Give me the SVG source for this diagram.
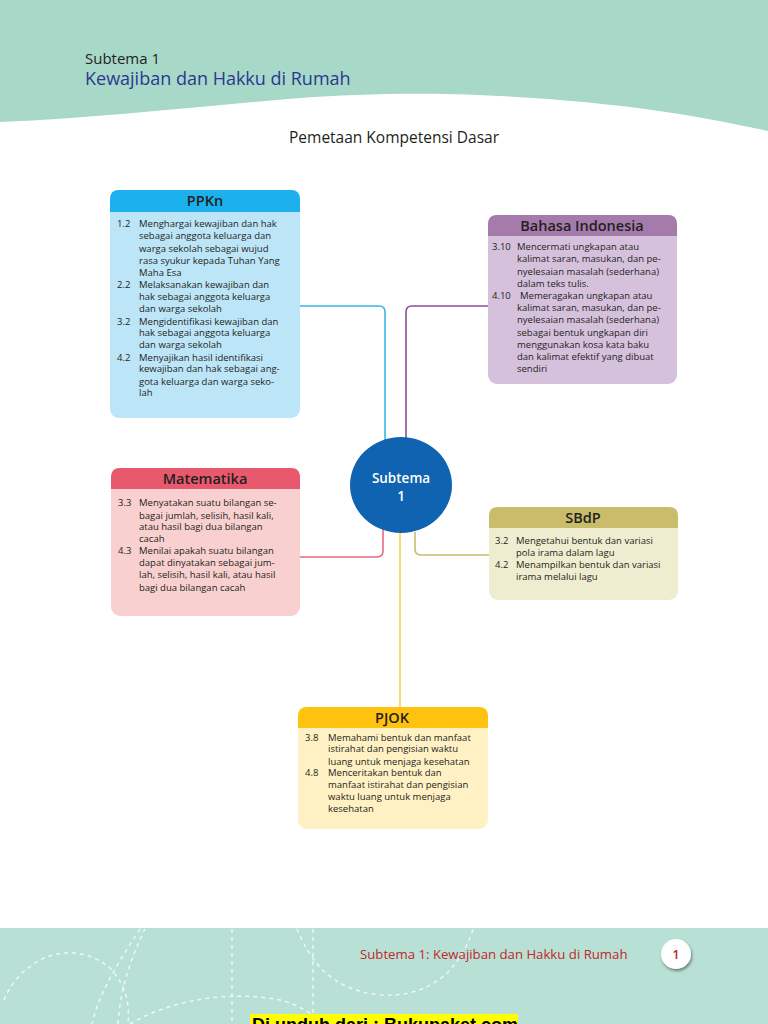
<svg xmlns="http://www.w3.org/2000/svg" width="768" height="1024" viewBox="0 0 768 1024">
<defs>
<style>
.hd{font-family:"Open Sans","Noto Sans",sans-serif;font-size:14.5px;font-weight:600;fill:#231f20;text-anchor:middle}
.bd{font-family:"Open Sans","Noto Sans",sans-serif;font-size:9.5px;fill:#231f20}
.cn{fill:none;stroke-width:1.6}
.dash{fill:none;stroke:#ffffff;stroke-width:1.5;stroke-dasharray:4 4;opacity:0.75}
</style>
<filter id="sh" x="-50%" y="-50%" width="200%" height="200%">
<feDropShadow dx="1" dy="2" stdDeviation="1.5" flood-color="#000" flood-opacity="0.45"/>
</filter>
</defs>
<rect width="768" height="1024" fill="#ffffff"/>
<!-- header band -->
<path d="M0,0 H768 V131 C700,116 620,102 500,96 C420,92 360,94 300,98 C200,106 100,118 0,122 Z" fill="#a8d8c8"/>
<text x="85" y="64" font-family="'Open Sans','Noto Sans',sans-serif" font-size="15" fill="#231f20">Subtema 1</text>
<text x="85" y="85" font-family="'Open Sans','Noto Sans',sans-serif" font-size="18" fill="#2b3990">Kewajiban dan Hakku di Rumah</text>
<text x="394" y="143" font-family="'Open Sans','Noto Sans',sans-serif" font-size="15.5" fill="#231f20" text-anchor="middle">Pemetaan Kompetensi Dasar</text>

<!-- connectors -->
<g id="connectors">
<path class="cn" stroke="#3bb7e6" d="M300,306 H379 Q385,306 385,312 V441"/>
<path class="cn" stroke="#8c4f97" d="M488,306 H412 Q406,306 406,312 V441"/>
<path class="cn" stroke="#e86a80" d="M300,557 H377 Q383,557 383,551 V530"/>
<path class="cn" stroke="#cbbb6e" d="M415,532 V549 Q415,555 421,555 H489"/>
<path class="cn" stroke="#f6d544" d="M400,533 V707"/>
</g>

<!-- PPKn -->
<g id="ppkn">
<rect x="110" y="190" width="190" height="228" rx="9" fill="#bde5f8"/>
<path d="M110,212 V199 Q110,190 119,190 H291 Q300,190 300,199 V212 Z" fill="#1cb0ec"/>
<text class="hd" x="205" y="206">PPKn</text>
<text class="bd">
<tspan x="117" y="227">1.2</tspan><tspan x="117" y="288">2.2</tspan><tspan x="117" y="325">3.2</tspan><tspan x="117" y="361">4.2</tspan>
<tspan x="139" y="227">Menghargai kewajiban dan hak</tspan>
<tspan x="139" y="239">sebagai anggota keluarga dan</tspan>
<tspan x="139" y="252">warga sekolah sebagai wujud</tspan>
<tspan x="139" y="264">rasa syukur kepada Tuhan Yang</tspan>
<tspan x="139" y="276">Maha Esa</tspan>
<tspan x="139" y="288">Melaksanakan kewajiban dan</tspan>
<tspan x="139" y="300">hak sebagai anggota keluarga</tspan>
<tspan x="139" y="312">dan warga sekolah</tspan>
<tspan x="139" y="325">Mengidentifikasi kewajiban dan</tspan>
<tspan x="139" y="336">hak sebagai anggota keluarga</tspan>
<tspan x="139" y="348">dan warga sekolah</tspan>
<tspan x="139" y="361">Menyajikan hasil identifikasi</tspan>
<tspan x="139" y="372">kewajiban dan hak sebagai ang-</tspan>
<tspan x="139" y="385">gota keluarga dan warga seko-</tspan>
<tspan x="139" y="396">lah</tspan>
</text>
</g>

<!-- Bahasa Indonesia -->
<g id="bahasa">
<rect x="488" y="215" width="189" height="169" rx="9" fill="#d6c1dd"/>
<path d="M488,236 V224 Q488,215 497,215 H668 Q677,215 677,224 V236 Z" fill="#a57bac"/>
<text class="hd" x="582" y="231">Bahasa Indonesia</text>
<text class="bd">
<tspan x="492" y="250">3.10</tspan><tspan x="492" y="299">4.10</tspan>
<tspan x="517" y="250">Mencermati ungkapan atau</tspan>
<tspan x="517" y="262">kalimat saran, masukan, dan pe-</tspan>
<tspan x="517" y="275">nyelesaian masalah (sederhana)</tspan>
<tspan x="517" y="287">dalam teks tulis.</tspan>
<tspan x="520" y="299">Memeragakan ungkapan atau</tspan>
<tspan x="517" y="311">kalimat saran, masukan, dan pe-</tspan>
<tspan x="517" y="323">nyelesaian masalah (sederhana)</tspan>
<tspan x="517" y="336">sebagai bentuk ungkapan diri</tspan>
<tspan x="517" y="348">menggunakan kosa kata baku</tspan>
<tspan x="517" y="360">dan kalimat efektif yang dibuat</tspan>
<tspan x="517" y="372">sendiri</tspan>
</text>
</g>

<!-- Matematika -->
<g id="matematika">
<rect x="111" y="468" width="189" height="148" rx="9" fill="#f9d0d0"/>
<path d="M111,489 V477 Q111,468 120,468 H291 Q300,468 300,477 V489 Z" fill="#e8596e"/>
<text class="hd" x="205" y="484">Matematika</text>
<text class="bd">
<tspan x="118" y="506">3.3</tspan><tspan x="118" y="554">4.3</tspan>
<tspan x="139" y="506">Menyatakan suatu bilangan se-</tspan>
<tspan x="139" y="519">bagai jumlah, selisih, hasil kali,</tspan>
<tspan x="139" y="530">atau hasil bagi dua bilangan</tspan>
<tspan x="139" y="542">cacah</tspan>
<tspan x="139" y="554">Menilai apakah suatu bilangan</tspan>
<tspan x="139" y="566">dapat dinyatakan sebagai jum-</tspan>
<tspan x="139" y="578">lah, selisih, hasil kali, atau hasil</tspan>
<tspan x="139" y="591">bagi dua bilangan cacah</tspan>
</text>
</g>

<!-- SBdP -->
<g id="sbdp">
<rect x="489" y="507" width="189" height="93" rx="9" fill="#efedd0"/>
<path d="M489,528 V516 Q489,507 498,507 H669 Q678,507 678,516 V528 Z" fill="#c9bd6c"/>
<text class="hd" x="583" y="523">SBdP</text>
<text class="bd">
<tspan x="495" y="544">3.2</tspan><tspan x="495" y="568">4.2</tspan>
<tspan x="516" y="544">Mengetahui bentuk dan variasi</tspan>
<tspan x="516" y="556">pola irama dalam lagu</tspan>
<tspan x="516" y="568">Menampilkan bentuk dan variasi</tspan>
<tspan x="516" y="580">irama melalui lagu</tspan>
</text>
</g>

<!-- PJOK -->
<g id="pjok">
<rect x="298" y="707" width="190" height="122" rx="9" fill="#fff1c4"/>
<path d="M298,728 V716 Q298,707 307,707 H479 Q488,707 488,716 V728 Z" fill="#ffc20e"/>
<text class="hd" x="392" y="723">PJOK</text>
<text class="bd">
<tspan x="305" y="741">3.8</tspan><tspan x="305" y="776">4.8</tspan>
<tspan x="328" y="741">Memahami bentuk dan manfaat</tspan>
<tspan x="328" y="752">istirahat dan pengisian waktu</tspan>
<tspan x="328" y="765">luang untuk menjaga kesehatan</tspan>
<tspan x="328" y="776">Menceritakan bentuk dan</tspan>
<tspan x="328" y="788">manfaat istirahat dan pengisian</tspan>
<tspan x="328" y="800">waktu luang untuk menjaga</tspan>
<tspan x="328" y="812">kesehatan</tspan>
</text>
</g>

<!-- center -->
<g id="subtema">
<ellipse cx="401" cy="485" rx="51" ry="48" fill="#0f63b0"/>
<text x="401" y="483" font-family="'Open Sans','Noto Sans',sans-serif" font-size="13.5" font-weight="600" fill="#ffffff" text-anchor="middle">Subtema</text>
<text x="401" y="501" font-family="'Open Sans','Noto Sans',sans-serif" font-size="13.5" font-weight="600" fill="#ffffff" text-anchor="middle">1</text>
</g>

<!-- footer -->
<rect x="0" y="928" width="768" height="96" fill="#b9e0d4"/>
<path class="dash" d="M4,1000 C20,960 70,935 110,968 C125,985 130,1000 128,1024"/>
<path class="dash" d="M140,929 C120,960 100,990 92,1024"/>
<path class="dash" d="M118,1024 C120,990 130,960 145,929"/>
<path class="dash" d="M232,929 V1024"/>
<path class="dash" d="M130,1024 C170,1000 230,990 280,1000 C300,1005 315,1015 320,1024"/>
<path class="dash" d="M297,929 C310,960 330,990 380,995 C430,998 460,970 473,929"/>
<path class="dash" d="M313,929 V1024"/>
<text x="360" y="959" font-family="'Open Sans','Noto Sans',sans-serif" font-size="13.2" fill="#c1272d">Subtema 1: Kewajiban dan Hakku di Rumah</text>
<circle cx="676" cy="954" r="15" fill="#ffffff" filter="url(#sh)"/>
<text x="676" y="959" font-family="'Open Sans','Noto Sans',sans-serif" font-size="13" font-weight="600" fill="#c1272d" text-anchor="middle">1</text>
<rect x="250" y="1014" width="268" height="10" fill="#ffff00"/>
<text x="252" y="1031" font-family="'Liberation Sans',Arial,sans-serif" font-size="18" font-weight="bold" fill="#000000">Di unduh dari : Bukupaket.com</text>
</svg>
